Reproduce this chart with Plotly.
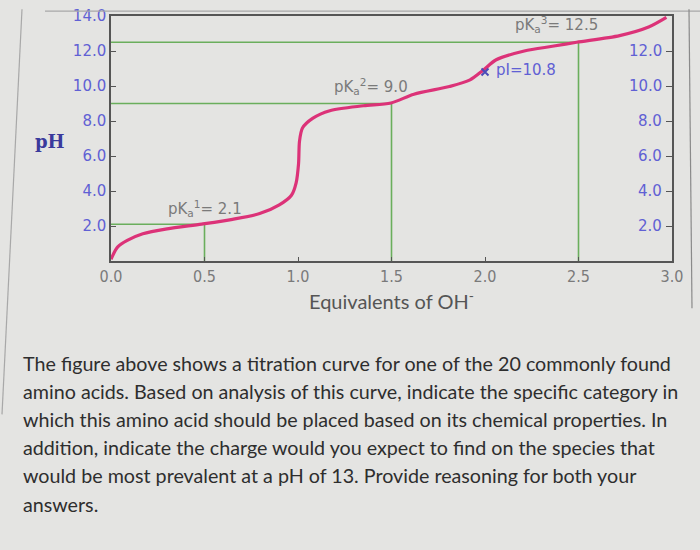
import plotly.graph_objects as go

# ---- data ----
eq_oh = [0.0, 0.035, 0.087, 0.17, 0.30, 0.485, 0.65, 0.795, 0.90, 0.965, 0.99,
         1.003, 1.008, 1.024, 1.078, 1.17, 1.35, 1.497, 1.62, 1.81, 1.92, 1.99,
         2.06, 2.21, 2.36, 2.49, 2.72, 2.875, 2.97]
ph_values = [0.1, 0.79, 1.18, 1.56, 1.84, 2.11, 2.38, 2.71, 3.21, 3.76, 4.47,
             5.57, 6.84, 7.6, 8.15, 8.59, 8.87, 9.03, 9.53, 9.97, 10.35, 10.9,
             11.5, 12.0, 12.27, 12.5, 12.88, 13.37, 13.92]

pka_eq = [0.5, 1.5, 2.5]
pka_values = [2.1, 9.0, 12.5]
pka_labels = ["pK<sub>a</sub><sup>1</sup>= 2.1",
              "pK<sub>a</sub><sup>2</sup>= 9.0",
              "pK<sub>a</sub><sup>3</sup>= 12.5"]

pi_eq = [2.0]
pi_value = [10.8]
pi_label = "pI=10.8"

x_ticks = [0.0, 0.5, 1.0, 1.5, 2.0, 2.5, 3.0]
x_tick_labels = ["0.0", "0.5", "1.0", "1.5", "2.0", "2.5", "3.0"]
y_left_ticks = [2, 4, 6, 8, 10, 12, 14]
y_left_labels = ["2.0", "4.0", "6.0", "8.0", "10.0", "12.0", "14.0"]
y_right_ticks = [2, 4, 6, 8, 10, 12]
y_right_labels = ["2.0", "4.0", "6.0", "8.0", "10.0", "12.0"]

x_title = "Equivalents of OH<sup>-</sup>"
y_title = "pH"

question_lines = [
    "The figure above shows a titration curve for one of the 20 commonly found",
    "amino acids. Based on analysis of this curve, indicate the specific category in",
    "which this amino acid should be placed based on its chemical properties. In",
    "addition, indicate the charge would you expect to find on the species that",
    "would be most prevalent at a pH of 13. Provide reasoning for both your",
    "answers.",
]

# ---- layout geometry (pixels) ----
W, H = 700, 550
L, R, T, B = 111, 672, 7, 261


def xp(px):
    return (px - L) / (R - L)


def yp(py):
    return (B - py) / (B - T)


BG = "#e4e4e2"
GREEN = "#6aae5c"
BLUE = "#6060d4"
GRAY = "#7a7a7a"
AXIS = "#555555"

fig = go.Figure()

# green reference lines for each pKa
for e, p in zip(pka_eq, pka_values):
    fig.add_trace(go.Scatter(x=[0, e, e], y=[p, p, 0], mode="lines",
                             line=dict(color=GREEN, width=1.6),
                             hoverinfo="skip", showlegend=False))

# titration curve
fig.add_trace(go.Scatter(x=eq_oh, y=ph_values, mode="lines",
                         line=dict(color="#dc3278", width=3.2, shape="spline", smoothing=0.8),
                         showlegend=False))

# pI marker
fig.add_trace(go.Scatter(x=pi_eq, y=pi_value, mode="markers",
                         marker=dict(symbol="x-thin", size=7,
                                     line=dict(color="#4a4ab8", width=2)),
                         showlegend=False))

# invisible trace on right axis
fig.add_trace(go.Scatter(x=[0], y=[0], yaxis="y2", mode="markers",
                         marker=dict(opacity=0), hoverinfo="skip", showlegend=False))

annotations = []
label_pos = [(0.5, 3.0), (1.39, 10.0), (2.38, 13.5)]
for (ax, ay), txt in zip(label_pos, pka_labels):
    annotations.append(dict(x=ax, y=ay, xref="x", yref="y", text=txt,
                            showarrow=False, xanchor="center", yanchor="middle",
                            font=dict(family="DejaVu Sans", size=15, color=GRAY)))
annotations.append(dict(x=pi_eq[0] + 0.05, y=pi_value[0] + 0.1, xref="x", yref="y",
                        text=pi_label, showarrow=False, xanchor="left", yanchor="middle",
                        font=dict(family="DejaVu Sans", size=15, color=BLUE)))

# right-hand tick labels (drawn inside the plot, left of the right border)
for tv, tl in zip(y_right_ticks, y_right_labels):
    annotations.append(dict(x=1, y=tv, xref="paper", yref="y2", text=tl,
                            showarrow=False, xanchor="right", yanchor="middle", xshift=-8,
                            font=dict(family="DejaVu Sans", size=15, color=BLUE)))

annotations.append(dict(x=xp(50), y=yp(137), xref="paper", yref="paper", text="<b>" + y_title + "</b>",
                        showarrow=False, xanchor="center", yanchor="middle",
                        font=dict(family="DejaVu Serif", size=18, color="#3a3a9c")))
annotations.append(dict(x=xp(391), y=yp(301), xref="paper", yref="paper", text=x_title,
                        showarrow=False, xanchor="center", yanchor="middle",
                        font=dict(family="Lato", size=20, color="#555555")))

line_y = [367, 396, 425, 454, 483, 513]
for ly, txt in zip(line_y, question_lines):
    annotations.append(dict(x=xp(21), y=yp(ly), xref="paper", yref="paper", text=txt,
                            showarrow=False, xanchor="left", yanchor="middle",
                            font=dict(family="Lato", size=19.7, color="#2e2e2e")))

shapes = [
    dict(type="line", xref="paper", yref="paper", x0=xp(22), y0=yp(0), x1=xp(2), y1=yp(420),
         line=dict(color="#a8a8a8", width=1.2)),
    dict(type="line", xref="paper", yref="paper", x0=xp(45), y0=yp(2), x1=xp(700), y1=yp(2),
         line=dict(color="#a8a8a8", width=1.2)),
    dict(type="line", xref="paper", yref="paper", x0=xp(689), y0=yp(0), x1=xp(692), y1=yp(310),
         line=dict(color="#8a8a8a", width=1.2)),
]

fig.update_layout(
    width=W, height=H,
    margin=dict(l=L, r=W - R, t=T, b=H - B),
    paper_bgcolor=BG, plot_bgcolor=BG,
    showlegend=False,
    annotations=annotations,
    shapes=shapes,
    xaxis=dict(range=[0, 3], tickvals=x_ticks, ticktext=x_tick_labels,
               showgrid=False, zeroline=False, showline=True, mirror=True,
               linecolor=AXIS, linewidth=1.5, ticks="inside", ticklen=4,
               tickcolor=AXIS, tickwidth=1.2, ticklabeloverflow="allow",
               tickfont=dict(family="DejaVu Sans Condensed, DejaVu Sans", size=16, color=GRAY)),
    yaxis=dict(range=[0, 14], tickvals=y_left_ticks, ticktext=y_left_labels,
               showgrid=False, zeroline=False, showline=True, mirror=True,
               linecolor=AXIS, linewidth=1.5, ticks="inside", ticklen=5,
               tickcolor=AXIS, tickwidth=1.2, ticklabeloverflow="allow",
               tickfont=dict(family="DejaVu Sans", size=15, color=BLUE)),
    yaxis2=dict(range=[0, 14], overlaying="y", side="right",
                tickvals=y_right_ticks, showticklabels=False,
                showgrid=False, zeroline=False, showline=True,
                linecolor=AXIS, linewidth=1.5, ticks="inside", ticklen=6,
                tickcolor=AXIS, tickwidth=1.2),
)

fig.write_html(
    "out.html",
    config={"displayModeBar": False},
    post_script="document.body.style.margin='0';document.body.style.background='" + BG + "';",
)
